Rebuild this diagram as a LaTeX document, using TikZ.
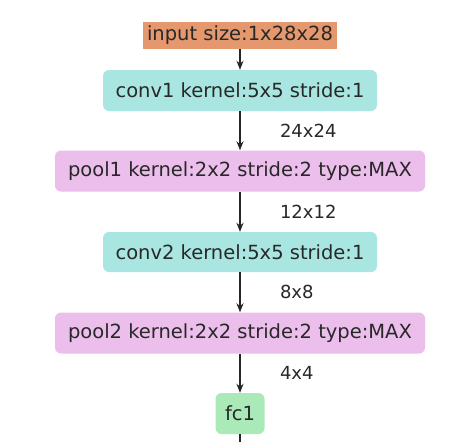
\documentclass[tikz,border=0pt]{standalone}
\usepackage{fontspec}
\setmainfont{DejaVu Sans}
\usetikzlibrary{arrows.meta}
\definecolor{inorange}{RGB}{229,152,110}
\definecolor{convcyan}{RGB}{170,230,225}
\definecolor{poolpink}{RGB}{236,190,236}
\definecolor{fcgreen}{RGB}{170,234,185}
\definecolor{txt}{RGB}{40,40,40}
\tikzset{
  layer/.style={rounded corners=6pt, inner sep=0pt, text=txt,
    font=\fontsize{19.5}{22}\selectfont},
  inbox/.style={fill=inorange, inner sep=0pt, text=txt,
    font=\fontsize{19.5}{22}\selectfont},
  convbox/.style={layer, fill=convcyan, minimum width=274pt, minimum height=41pt},
  poolbox/.style={layer, fill=poolpink, minimum width=370pt, minimum height=41pt},
  fcbox/.style={layer, fill=fcgreen, minimum width=49pt, minimum height=41pt},
  flow/.style={line width=1.4pt, black!85, -{Stealth[length=9pt,width=7pt]}},
  dimlabel/.style={midway, anchor=west, xshift=36pt, text=txt,
    font=\fontsize{18}{20}\selectfont}
}
\begin{document}
\begin{tikzpicture}[x=1pt, y=-1pt]
\useasboundingbox[fill=white] (0,0) rectangle (474,442);
\node[inbox, minimum width=194pt, minimum height=27pt] (in) at (240,35.5) {input size:1x28x28};
\node[convbox] (c1) at (240,90.5) {conv1 kernel:5x5 stride:1};
\node[poolbox] (p1) at (240,171) {pool1 kernel:2x2 stride:2 type:MAX};
\node[convbox, minimum height=40pt] (c2) at (240,252) {conv2 kernel:5x5 stride:1};
\node[poolbox] (p2) at (240,333) {pool2 kernel:2x2 stride:2 type:MAX};
\node[fcbox] (fc) at (240,413.5) {fc1};
\coordinate (out) at (240,442);
\draw[flow] (in) -- (c1);
\draw[flow] (c1) -- node[dimlabel] {24x24} (p1);
\draw[flow] (p1) -- node[dimlabel] {12x12} (c2);
\draw[flow] (c2) -- node[dimlabel] {8x8} (p2);
\draw[flow] (p2) -- node[dimlabel] {4x4} (fc);
\draw[line width=1.4pt, black!85] (fc) -- (out);
\end{tikzpicture}
\end{document}
